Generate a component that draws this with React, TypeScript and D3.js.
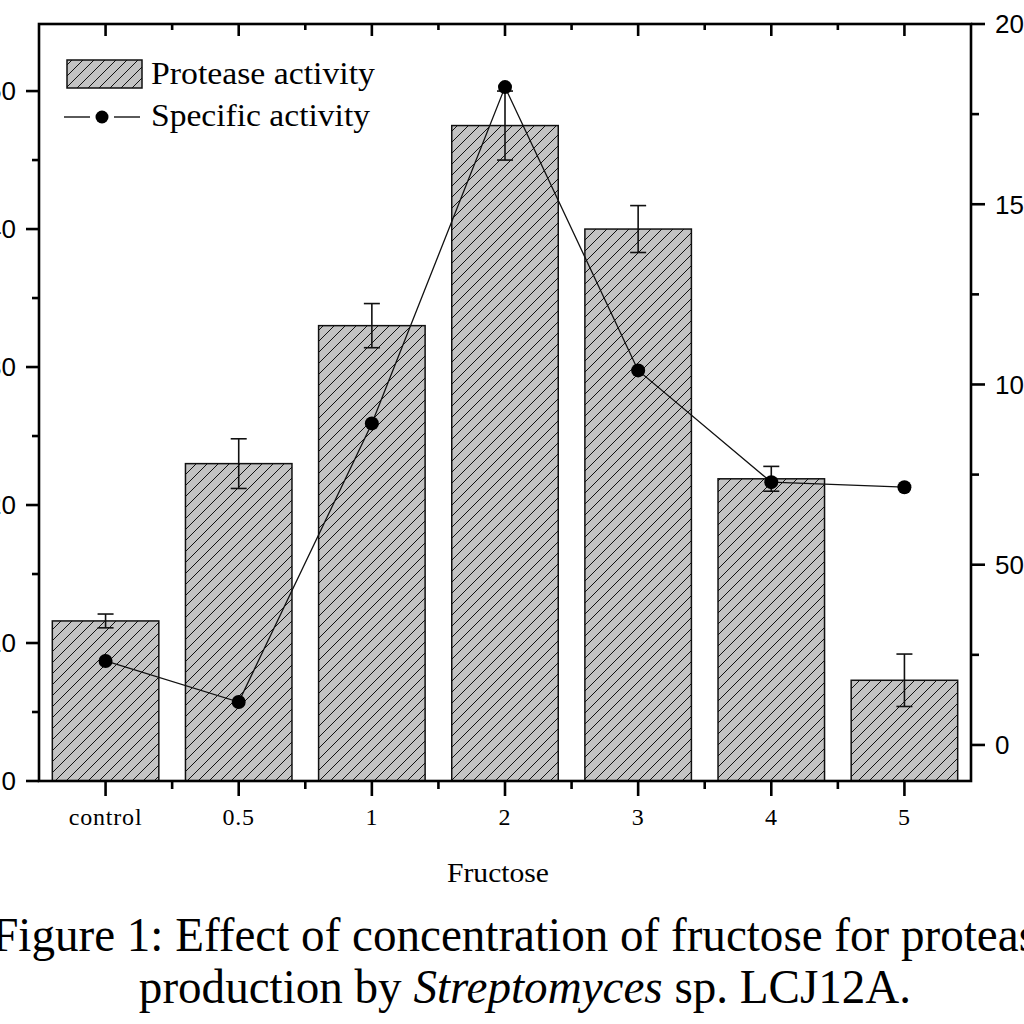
import React, { useRef, useEffect } from "react";
import * as d3 from "d3";

const categories = ["control", "0.5", "1", "2", "3", "4", "5"];
const protease = [11.6, 23.0, 33.0, 47.5, 40.0, 21.9, 7.3];
const proteaseErr = [0.5, 1.8, 1.6, 2.5, 1.7, 0.9, 1.9];
const specific = [23.3, 11.9, 89.2, 182.5, 103.9, 72.9, 71.5];
const leftTicks = [0, 10, 20, 30, 40, 50];
const leftMinor = [5, 15, 25, 35, 45];
const rightTicks = [0, 50, 100, 150, 200];
const rightMinor = [25, 75, 125, 175];

const W = 1024;
const H = 1024;
const left = 39;
const right = 971;
const top = 24;
const bottom = 781;
const serif = "Liberation Serif, Times New Roman, serif";
const sans = "Liberation Sans, Arial, sans-serif";

export default function App() {
  const ref = useRef<SVGSVGElement>(null);

  useEffect(() => {
    const svg = d3.select(ref.current);
    svg.selectAll("*").remove();

    const x = d3
      .scaleBand()
      .domain(categories)
      .range([left, right])
      .paddingInner(0.2)
      .paddingOuter(0.1);
    const yL = d3.scaleLinear().domain([0, 54.86]).range([bottom, top]);
    const yR = d3.scaleLinear().domain([-10, 200]).range([bottom, top]);
    const cx = (c: string) => (x(c) as number) + x.bandwidth() / 2;

    // hatch pattern
    const defs = svg.append("defs");
    const pat = defs
      .append("pattern")
      .attr("id", "hatch")
      .attr("patternUnits", "userSpaceOnUse")
      .attr("width", 11)
      .attr("height", 11);
    pat.append("rect").attr("width", 11).attr("height", 11).attr("fill", "#c3c3c3");
    pat
      .append("path")
      .attr("d", "M-1,1 l2,-2 M0,11 l11,-11 M10,12 l2,-2")
      .attr("stroke", "#111")
      .attr("stroke-width", 1);

    // bars
    svg
      .append("g")
      .selectAll("rect")
      .data(categories)
      .enter()
      .append("rect")
      .attr("x", (d) => x(d) as number)
      .attr("y", (d, i) => yL(protease[i]))
      .attr("width", x.bandwidth())
      .attr("height", (d, i) => bottom - yL(protease[i]))
      .attr("fill", "url(#hatch)")
      .attr("stroke", "#111")
      .attr("stroke-width", 1.5);

    // error bars
    const eb = svg.append("g").attr("stroke", "#111").attr("stroke-width", 1.6);
    categories.forEach((c, i) => {
      const hi = yL(protease[i] + proteaseErr[i]);
      const lo = yL(protease[i] - proteaseErr[i]);
      eb.append("line").attr("x1", cx(c)).attr("x2", cx(c)).attr("y1", hi).attr("y2", lo);
      eb.append("line").attr("x1", cx(c) - 8).attr("x2", cx(c) + 8).attr("y1", hi).attr("y2", hi);
      eb.append("line").attr("x1", cx(c) - 8).attr("x2", cx(c) + 8).attr("y1", lo).attr("y2", lo);
    });

    // specific activity line
    const line = d3
      .line<number>()
      .x((d, i) => cx(categories[i]))
      .y((d) => yR(d));
    svg
      .append("path")
      .datum(specific)
      .attr("d", line)
      .attr("fill", "none")
      .attr("stroke", "#111")
      .attr("stroke-width", 1.3);
    svg
      .append("g")
      .selectAll("circle")
      .data(specific)
      .enter()
      .append("circle")
      .attr("cx", (d, i) => cx(categories[i]))
      .attr("cy", (d) => yR(d))
      .attr("r", 7)
      .attr("fill", "#000");

    // frame
    const ax = svg.append("g").attr("stroke", "#000").attr("stroke-width", 2.6);
    ax.append("rect")
      .attr("x", left)
      .attr("y", top)
      .attr("width", right - left)
      .attr("height", bottom - top)
      .attr("fill", "none");

    // x ticks
    const boundaries = categories.slice(1).map((c) => (x(c) as number) - (x.step() - x.bandwidth()) / 2);
    categories.forEach((c) => {
      ax.append("line").attr("x1", cx(c)).attr("x2", cx(c)).attr("y1", bottom).attr("y2", bottom + 15);
      ax.append("line").attr("x1", cx(c)).attr("x2", cx(c)).attr("y1", top).attr("y2", top + 12);
    });
    boundaries.forEach((b) => {
      ax.append("line").attr("x1", b).attr("x2", b).attr("y1", bottom).attr("y2", bottom + 8);
      ax.append("line").attr("x1", b).attr("x2", b).attr("y1", top).attr("y2", top + 6);
    });

    // y ticks
    leftTicks.forEach((t) => {
      ax.append("line").attr("x1", left - 13).attr("x2", left).attr("y1", yL(t)).attr("y2", yL(t));
    });
    leftMinor.forEach((t) => {
      ax.append("line").attr("x1", left - 7).attr("x2", left).attr("y1", yL(t)).attr("y2", yL(t));
    });
    rightTicks.forEach((t) => {
      ax.append("line").attr("x1", right).attr("x2", right + 14).attr("y1", yR(t)).attr("y2", yR(t));
    });
    rightMinor.forEach((t) => {
      ax.append("line").attr("x1", right).attr("x2", right + 8).attr("y1", yR(t)).attr("y2", yR(t));
    });

    // tick labels
    svg
      .append("g")
      .selectAll("text")
      .data(leftTicks)
      .enter()
      .append("text")
      .attr("x", 16)
      .attr("y", (d) => yL(d))
      .attr("dy", "0.36em")
      .attr("text-anchor", "end")
      .attr("font-family", sans)
      .attr("font-size", 26)
      .text((d) => d);
    svg
      .append("g")
      .selectAll("text")
      .data(rightTicks)
      .enter()
      .append("text")
      .attr("x", 995)
      .attr("y", (d) => yR(d))
      .attr("dy", "0.36em")
      .attr("font-family", sans)
      .attr("font-size", 26)
      .text((d) => d);
    svg
      .append("g")
      .selectAll("text")
      .data(categories)
      .enter()
      .append("text")
      .attr("x", (d) => cx(d))
      .attr("y", 825)
      .attr("text-anchor", "middle")
      .attr("font-family", serif)
      .attr("font-size", 24)
      .attr("letter-spacing", 0.8)
      .text((d) => d);

    svg
      .append("text")
      .attr("x", 498)
      .attr("y", 882)
      .attr("text-anchor", "middle")
      .attr("font-family", serif)
      .attr("font-size", 28)
      .attr("textLength", 102)
      .attr("lengthAdjust", "spacingAndGlyphs")
      .text("Fructose");

    // legend
    const lg = svg.append("g").attr("font-family", serif).attr("font-size", 31);
    lg.append("rect")
      .attr("x", 67)
      .attr("y", 60)
      .attr("width", 75)
      .attr("height", 28)
      .attr("fill", "url(#hatch)")
      .attr("stroke", "#111")
      .attr("stroke-width", 1.5);
    lg.append("text")
      .attr("x", 151)
      .attr("y", 84)
      .attr("textLength", 224)
      .attr("lengthAdjust", "spacingAndGlyphs")
      .text("Protease activity");
    lg.append("line").attr("x1", 64).attr("x2", 90).attr("y1", 117).attr("y2", 117).attr("stroke", "#000").attr("stroke-width", 1.3);
    lg.append("line").attr("x1", 114).attr("x2", 140).attr("y1", 117).attr("y2", 117).attr("stroke", "#000").attr("stroke-width", 1.3);
    lg.append("circle").attr("cx", 102).attr("cy", 117).attr("r", 6.5).attr("fill", "#000");
    lg.append("text")
      .attr("x", 151)
      .attr("y", 126)
      .attr("textLength", 219)
      .attr("lengthAdjust", "spacingAndGlyphs")
      .text("Specific activity");

    // caption
    const cap = svg
      .append("g")
      .attr("font-family", serif)
      .attr("font-size", 48)
      .attr("text-anchor", "middle")
      .attr("transform", "translate(525,0) scale(0.981,1)");
    cap.append("text").attr("x", 0).attr("y", 951).text("Figure 1: Effect of concentration of fructose for protease");
    const l2 = cap.append("text").attr("x", 0).attr("y", 1003);
    l2.append("tspan").text("production by ");
    l2.append("tspan").attr("font-style", "italic").text("Streptomyces");
    l2.append("tspan").text(" sp. LCJ12A.");
  }, []);

  return (
    <svg
      ref={ref}
      width={W}
      height={H}
      style={{ position: "absolute", left: 0, top: 0, background: "#fff" }}
    />
  );
}
